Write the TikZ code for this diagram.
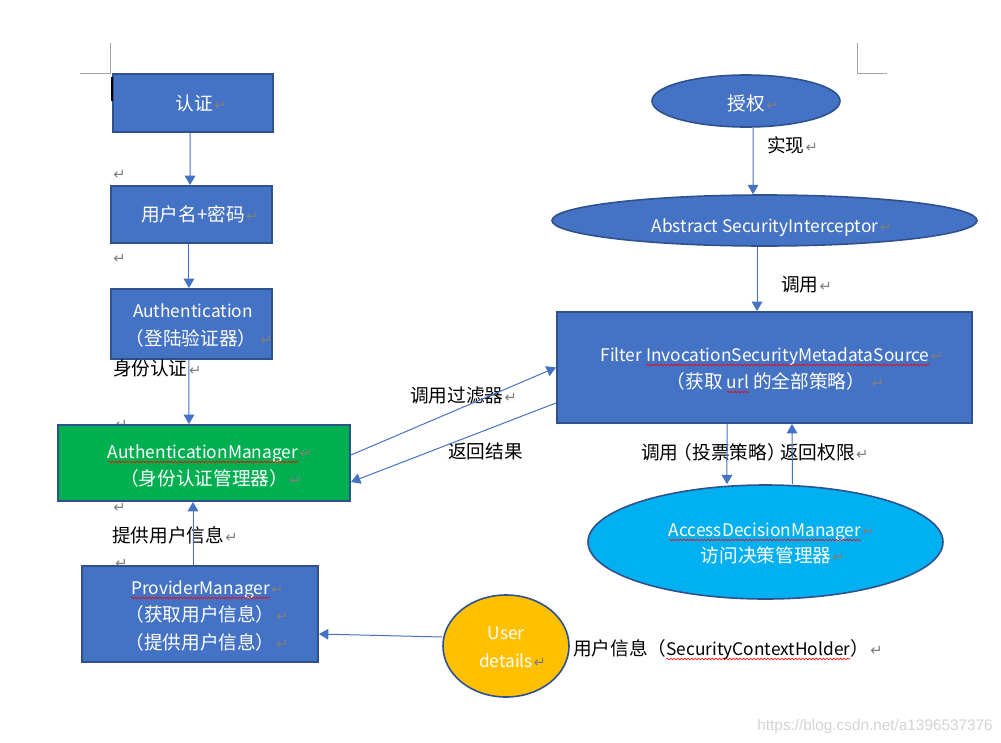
\documentclass[tikz,border=0pt]{standalone}
\usepackage{fontspec}
\setmainfont{Noto Sans CJK SC}
\newfontfamily\djv{DejaVu Sans}
\newfontfamily\wmfont{Liberation Sans}
\usetikzlibrary{arrows.meta,shapes.geometric,decorations.pathmorphing}
\definecolor{boxblue}{HTML}{4472C4}
\definecolor{edgeblue}{HTML}{2F528F}
\definecolor{boxgreen}{HTML}{00B050}
\definecolor{cyanfill}{HTML}{00B0F0}
\definecolor{goldfill}{HTML}{FFC000}
\definecolor{markgray}{HTML}{A6A6A6}
\definecolor{retgray}{HTML}{7F7F7F}
\newcommand\cjkfs{\fontsize{14}{17}\selectfont}
\newcommand\latfs{\fontsize{13}{16}\selectfont}
\begin{document}
\begin{tikzpicture}[x=0.75pt,y=-0.75pt,
  bluebox/.style={draw=edgeblue,line width=1.5pt,fill=boxblue,rectangle,inner sep=0pt},
  greenbox/.style={draw=edgeblue,line width=1.5pt,fill=boxgreen,rectangle,inner sep=0pt},
  ell/.style={draw=edgeblue,line width=1.2pt,ellipse,inner sep=0pt},
  txt/.style={inner sep=0pt,outer sep=0pt,font=\cjkfs},
  ltxt/.style={inner sep=0pt,outer sep=0pt,font=\latfs},
  wtxt/.style={txt,text=white,anchor=base},
  wltxt/.style={ltxt,text=white,anchor=base},
  lbl/.style={txt,text=black,anchor=base west},
  ph/.style={txt,anchor=base west},
  phl/.style={ltxt,anchor=base west},
  ret/.style={inner sep=0pt,outer sep=0pt,anchor=base west,font=\djv\fontsize{11}{12}\selectfont,text=retgray,xshift=1pt},
  arr/.style={draw=boxblue,line width=0.75pt,-{Triangle[length=7pt,width=8pt]}},
  wave/.style={draw=red,line width=0.45pt,decorate,decoration={snake,amplitude=0.6pt,segment length=2.6pt}},
  corner/.style={draw=markgray,line width=0.75pt}
]
\path[use as bounding box,fill=white] (0,0) rectangle (1001,743);

% page corner marks
\draw[corner] (80,73) -- (110,73) -- (110,43);
\draw[corner] (857,43) -- (857,73) -- (887,73);

% free paragraph marks
\node[ret] (p1) at (112,179) {↵};
\node[ret] (p2) at (112,263) {↵};
\node[ret] (p3) at (114,429) {↵};
\node[ret] (p4) at (112,512) {↵};
\node[ret] (p5) at (114,568) {↵};

% shapes
\node[bluebox,minimum width=120pt,minimum height=43.5pt] (auth) at (193,103) {};
\node[bluebox,minimum width=120.75pt,minimum height=42.75pt] (upw) at (191.5,214.5) {};
\node[bluebox,minimum width=120.75pt,minimum height=52.5pt] (authn) at (191.5,324) {};
\node[greenbox,minimum width=219pt,minimum height=57pt] (am) at (204,463) {};
\node[bluebox,minimum width=177pt,minimum height=72pt] (pm) at (200,614) {};
\node[bluebox,minimum width=311.25pt,minimum height=83.25pt] (flt) at (764.5,367.5) {};
\node[ell,fill=boxblue,minimum width=141pt,minimum height=39pt] (sq) at (746,101) {};
\node[ell,fill=boxblue,minimum width=318.75pt,minimum height=38.25pt] (asi) at (764.5,220.5) {};
\node[ell,fill=cyanfill,minimum width=266.25pt,minimum height=85.5pt] (adm) at (765.5,542) {};
\node[ell,fill=goldfill,minimum width=94.5pt,minimum height=76.5pt] (ud) at (506,646) {};

% text cursor
\draw[black,line width=1.5pt] (112,77) -- (112,101);

% texts in shapes
\node[wtxt] (t1) at (194,110) {认证};
\node[ret] (r1) at (t1.base east) {↵};
\node[wtxt] (t2) at (193,221.5) {用户名+密码};
\node[ret] (r2) at (t2.base east) {↵};
\node[wltxt] (t3) at (193,317.5) {Authentication};
\node[wtxt] (t4) at (191,345.5) {（登陆验证器）};
\node[ret,xshift=2pt] (r4) at (t4.base east) {↵};
\node[wltxt] (t5) at (203,458.5) {AuthenticationManager};
\node[ret] (r5) at (t5.base east) {↵};
\draw[wave] ([yshift=-2.6pt]t5.base west) -- ([yshift=-2.6pt]t5.base east);
\node[wtxt] (t6) at (204,485.5) {（身份认证管理器）};
\node[ret] (r6) at (t6.base east) {↵};
\node[wltxt] (t7) at (200.5,594.5) {ProviderManager};
\node[ret] (r7) at (t7.base east) {↵};
\draw[wave] ([yshift=-2.6pt]t7.base west) -- ([yshift=-2.6pt]t7.base east);
\node[wtxt] (t8) at (200,621.5) {（获取用户信息）};
\node[ret] (r8) at (t8.base east) {↵};
\node[wtxt] (t9) at (200,649.5) {（提供用户信息）};
\node[ret] (r9) at (t9.base east) {↵};
\node[wltxt] (t10) at (506,639.5) {User};
\node[wltxt] (t11) at (506,667.5) {details};
\node[ret,xshift=-0.5pt] (r11) at (t11.base east) {↵};
\node[wtxt] (t12) at (746,110.5) {授权};
\node[ret] (r12) at (t12.base east) {↵};
\node[wltxt] (t13) at (765,232.5) {Abstract SecurityInterceptor};
\node[ret] (r13) at (t13.base east) {↵};
\node[wltxt] (t14) at (765,361.5) {Filter InvocationSecurityMetadataSource};
\node[ret] (r14) at (t14.base east) {↵};
\node[phl] (ph14) at (t14.base west) {\phantom{Filter\ }};
\draw[wave] ([yshift=-2.6pt]ph14.base east) -- ([yshift=-2.6pt]t14.base east);
\node[wtxt] (t15) at (766,388.5) {（获取 {\latfs url} 的全部策略）};
\node[ret,xshift=4pt] (r15) at (t15.base east) {↵};
\node[ph] (ph15a) at (t15.base west) {\phantom{（获取\ }};
\node[ph] (ph15b) at (t15.base west) {\phantom{（获取\ {\latfs url}}};
\draw[wave] ([yshift=-2.6pt]ph15a.base east) -- ([yshift=-2.6pt]ph15b.base east);
\node[wltxt] (t16) at (765,536.5) {AccessDecisionManager};
\node[ret] (r16) at (t16.base east) {↵};
\draw[wave] ([yshift=-2.6pt]t16.base west) -- ([yshift=-2.6pt]t16.base east);
\node[wtxt] (t17) at (766,562.5) {访问决策管理器};
\node[ret] (r17) at (t17.base east) {↵};

% labels
\node[lbl] (l1) at (113,375.5) {身份认证};
\node[ret] (rl1) at (l1.base east) {↵};
\node[lbl] (l2) at (410,402.5) {调用过滤器};
\node[ret] (rl2) at (l2.base east) {↵};
\node[lbl] (l3) at (448,458.5) {返回结果};
\node[lbl] (l4) at (112,542.5) {提供用户信息};
\node[ret] (rl4) at (l4.base east) {↵};
\node[lbl] (l5) at (767,152.5) {实现};
\node[ret] (rl5) at (l5.base east) {↵};
\node[lbl] (l6) at (781,291.5) {调用};
\node[ret] (rl6) at (l6.base east) {↵};
\node[lbl] (l7) at (641,459.5) {调用\hspace{-0.25em}（投票策略）\hspace{-0.3em}返回权限};
\node[ret] (rl7) at (l7.base east) {↵};
\node[lbl] (l8) at (573,655.5) {用户信息（{\latfs SecurityContextHolder}）};
\node[ret] (rl8) at (l8.base east) {↵};
\node[ph] (ph8a) at (l8.base west) {\phantom{用户信息（}};
\node[ph] (ph8b) at (l8.base west) {\phantom{用户信息（{\latfs SecurityContextHolder}}};
\draw[wave] ([yshift=-2.6pt]ph8a.base east) -- ([yshift=-2.6pt]ph8b.base east);

% connectors
\draw[arr] ([xshift=-2.25pt]auth.south) -- ([xshift=-1.1pt]upw.north);
\draw[arr] ([xshift=-1.9pt]upw.south) -- ([xshift=-1.9pt]authn.north);
\draw[arr] ([xshift=-1.9pt]authn.south) -- ([xshift=-11.25pt]am.north);
\draw[arr] ([xshift=-5.25pt]pm.north) -- ([xshift=-8.25pt]am.south);
\draw[arr] ([yshift=6pt]am.east) -- (flt.west);
\draw[arr] ([yshift=-26.6pt]flt.west) -- ([yshift=-14.25pt]am.east);
\draw[arr] ([yshift=6.75pt]ud.west) -- ([yshift=-15pt]pm.east);
\draw[arr] ([xshift=5.25pt]sq.south) -- ([xshift=-8.6pt]asi.north);
\draw[arr] ([xshift=-5.6pt]asi.south) -- ([xshift=-5.6pt]flt.north);
\draw[arr] ([xshift=-28.1pt]flt.south) -- ([xshift=-28.9pt]adm.north);
\draw[arr] ([xshift=20.25pt]adm.north) -- ([xshift=20.6pt]flt.south);

% watermark
\node[inner sep=0pt,anchor=base east,font=\wmfont\fontsize{11.5}{13}\selectfont,text=black!17] (wm) at (993,730) {https://blog.csdn.net/a1396537376};
\end{tikzpicture}
\end{document}
